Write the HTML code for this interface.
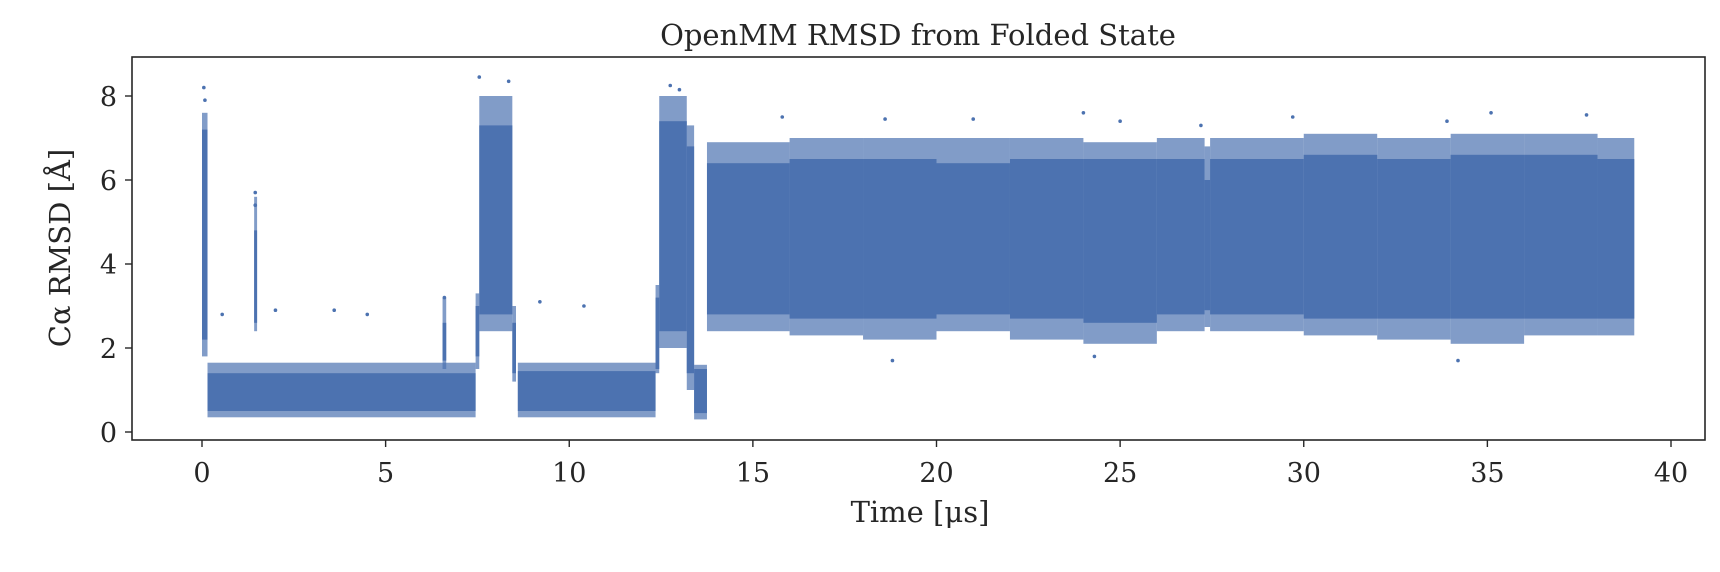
<!DOCTYPE html>
<html><head><meta charset="utf-8"><style>
html,body{margin:0;padding:0;background:#fff;}
svg{display:block;font-family:"DejaVu Serif","Liberation Serif",serif;}
</style></head><body>
<svg id="chart" width="1720" height="572" viewBox="0 0 1720 572">
<text x="918" y="45" text-anchor="middle" font-size="29" fill="#262626">OpenMM RMSD from Folded State</text>
<g id="plot"></g>
<g id="axes"></g>
<text x="920" y="522" text-anchor="middle" font-size="29" fill="#262626">Time [μs]</text>
<text transform="translate(70,248) rotate(-90)" text-anchor="middle" font-size="29" fill="#262626">Cα RMSD [Å]</text>
</svg>
<script>
// Dense core bands: time start/end (μs), RMSD low/high (Å)
const bandStart = [0.0, 0.15, 1.42, 6.55, 7.45, 7.55, 8.45, 8.6, 12.35, 12.45, 13.2, 13.4, 13.75, 16, 18, 20, 22, 24, 26, 27.3, 27.45, 30, 32, 34, 36, 38];
const bandEnd   = [0.15, 7.45, 1.5, 6.65, 7.55, 8.45, 8.55, 12.35, 12.45, 13.2, 13.4, 13.75, 16, 18, 20, 22, 24, 26, 27.3, 27.45, 30, 32, 34, 36, 38, 39.0];
const bandLow   = [2.2, 0.5, 2.6, 1.7, 1.8, 2.8, 1.4, 0.5, 1.5, 2.4, 1.4, 0.45, 2.8, 2.7, 2.7, 2.8, 2.7, 2.6, 2.8, 2.9, 2.8, 2.7, 2.7, 2.7, 2.7, 2.7];
const bandHigh  = [7.2, 1.4, 4.8, 2.6, 3.0, 7.3, 2.6, 1.45, 3.2, 7.4, 6.8, 1.5, 6.4, 6.5, 6.5, 6.4, 6.5, 6.5, 6.5, 6.0, 6.5, 6.6, 6.5, 6.6, 6.6, 6.5];
// Sparse fringe envelope around each band
const fringeLow  = [1.8, 0.35, 2.4, 1.5, 1.5, 2.4, 1.2, 0.35, 1.4, 2.0, 1.0, 0.3, 2.4, 2.3, 2.2, 2.4, 2.2, 2.1, 2.4, 2.5, 2.4, 2.3, 2.2, 2.1, 2.3, 2.3];
const fringeHigh = [7.6, 1.65, 5.6, 3.2, 3.3, 8.0, 3.0, 1.65, 3.5, 8.0, 7.3, 1.6, 6.9, 7.0, 7.0, 7.0, 7.0, 6.9, 7.0, 6.8, 7.0, 7.1, 7.0, 7.1, 7.1, 7.0];
// Outlier points
const outT = [0.05, 0.08, 1.45, 1.45, 7.55, 8.35, 12.75, 13.0, 15.8, 18.6, 21.0, 24.0, 25.0, 27.2, 29.7, 33.9, 35.1, 37.7, 0.55, 3.6, 4.5, 2.0, 10.4, 9.2, 6.6, 24.3, 18.8, 34.2];
const outV = [8.2, 7.9, 5.7, 5.4, 8.45, 8.35, 8.25, 8.15, 7.5, 7.45, 7.45, 7.6, 7.4, 7.3, 7.5, 7.4, 7.6, 7.55, 2.8, 2.9, 2.8, 2.9, 3.0, 3.1, 3.2, 1.8, 1.7, 1.7];
const xTicks = [0, 5, 10, 15, 20, 25, 30, 35, 40];
const yTicks = [0, 2, 4, 6, 8];

const X0 = 202, XS = (1671 - 202) / 40;
const Y0 = 432, YS = (432 - 96) / 8;
const sx = t => X0 + t * XS;
const sy = v => Y0 - v * YS;
const NS = "http://www.w3.org/2000/svg";
const plot = document.getElementById('plot');
const axes = document.getElementById('axes');
const col = '#4c72b0';

for (let i = 0; i < bandStart.length; i++) {
  const f = document.createElementNS(NS, 'rect');
  f.setAttribute('x', sx(bandStart[i]));
  f.setAttribute('width', Math.max(2, sx(bandEnd[i]) - sx(bandStart[i])));
  f.setAttribute('y', sy(fringeHigh[i]));
  f.setAttribute('height', sy(fringeLow[i]) - sy(fringeHigh[i]));
  f.setAttribute('fill', col);
  f.setAttribute('opacity', '0.7');
  
  
  plot.appendChild(f);
}
for (let i = 0; i < bandStart.length; i++) {
  const r = document.createElementNS(NS, 'rect');
  r.setAttribute('x', sx(bandStart[i]));
  r.setAttribute('width', Math.max(2, sx(bandEnd[i]) - sx(bandStart[i])));
  r.setAttribute('y', sy(bandHigh[i]));
  r.setAttribute('height', sy(bandLow[i]) - sy(bandHigh[i]));
  r.setAttribute('fill', col);
  
  
  plot.appendChild(r);
}
for (let i = 0; i < outT.length; i++) {
  const c = document.createElementNS(NS, 'circle');
  c.setAttribute('cx', sx(outT[i]));
  c.setAttribute('cy', sy(outV[i]));
  c.setAttribute('r', 1.8);
  c.setAttribute('fill', col);
  
  
  plot.appendChild(c);
}

const frame = document.createElementNS(NS, 'rect');
frame.setAttribute('x', 132); frame.setAttribute('y', 57);
frame.setAttribute('width', 1705 - 132); frame.setAttribute('height', 440 - 57);
frame.setAttribute('fill', 'none'); frame.setAttribute('stroke', '#262626'); frame.setAttribute('stroke-width', '1.6');


axes.appendChild(frame);

xTicks.forEach(t => {
  const l = document.createElementNS(NS, 'line');
  l.setAttribute('x1', sx(t)); l.setAttribute('x2', sx(t));
  l.setAttribute('y1', 440); l.setAttribute('y2', 447);
  l.setAttribute('stroke', '#262626'); l.setAttribute('stroke-width', '1.4');
  
  
  axes.appendChild(l);
  const tx = document.createElementNS(NS, 'text');
  tx.setAttribute('x', sx(t)); tx.setAttribute('y', 482);
  tx.setAttribute('text-anchor', 'middle'); tx.setAttribute('font-size', '27'); tx.setAttribute('fill', '#262626');
  tx.textContent = t;
  
  
  axes.appendChild(tx);
});
yTicks.forEach(v => {
  const l = document.createElementNS(NS, 'line');
  l.setAttribute('x1', 125); l.setAttribute('x2', 132);
  l.setAttribute('y1', sy(v)); l.setAttribute('y2', sy(v));
  l.setAttribute('stroke', '#262626'); l.setAttribute('stroke-width', '1.4');
  
  
  axes.appendChild(l);
  const tx = document.createElementNS(NS, 'text');
  tx.setAttribute('x', 117); tx.setAttribute('y', sy(v) + 10);
  tx.setAttribute('text-anchor', 'end'); tx.setAttribute('font-size', '27'); tx.setAttribute('fill', '#262626');
  tx.textContent = v;
  
  
  axes.appendChild(tx);
});
</script>
</body></html>
